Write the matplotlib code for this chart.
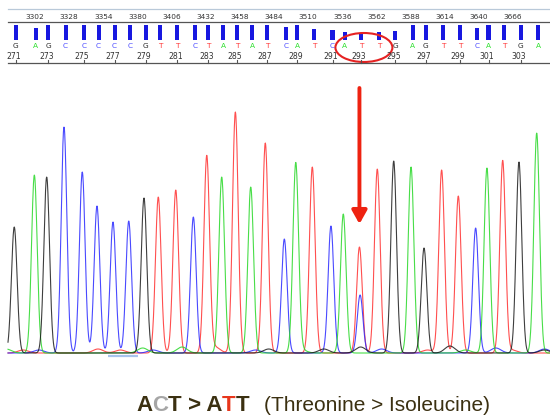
import numpy as np
import matplotlib
matplotlib.use("Agg")
import matplotlib.pyplot as plt
from matplotlib.patches import Ellipse, FancyArrowPatch

# ---------------- data ----------------
bases = list("GAGCCCCCGTTCTATATCATCATTGAGTTCATGA")
peak_scan = [3286.2, 3301.5, 3310.9, 3324.1, 3338.0, 3349.2, 3361.4, 3373.4, 3385.0,
             3395.9, 3409.2, 3422.6, 3432.8, 3444.2, 3454.6, 3466.3, 3477.4, 3491.9,
             3500.6, 3513.2, 3527.4, 3536.8, 3549.1, 3562.7, 3575.2, 3588.4, 3598.3,
             3611.7, 3624.4, 3637.6, 3646.2, 3658.2, 3670.6, 3684.1]
peak_height = [126, 178, 176, 226, 181, 147, 131, 132, 155, 156, 163, 136, 196, 176,
               241, 166, 210, 114, 189, 186, 127, 139, 106, 184, 192, 186, 105, 183,
               157, 125, 185, 192, 191, 220]
quality = [39, 32, 39, 40, 40, 40, 39, 39, 39, 39, 40, 40, 39, 39, 39, 39, 39, 34,
           39, 29, 25, 21, 18, 19, 24, 40, 40, 40, 40, 32, 39, 40, 40, 40]
# secondary (mutant) peak under base 293
extra_peaks = [("C", 3549.6, 58)]
# minor baseline bumps (channel, scan, height)
minor_peaks = [("A", 3280, 4), ("T", 3293, 3), ("C", 3305, 3), ("T", 3350, 4),
               ("T", 3367, 3), ("A", 3384, 5), ("C", 3392, 3), ("A", 3414, 6),
               ("T", 3439, 6), ("G", 3480, 4), ("C", 3470, 3), ("G", 3522, 4),
               ("A", 3505, 3), ("G", 3550, 6), ("C", 3566, 4), ("T", 3601, 3),
               ("G", 3618, 7), ("A", 3630, 3), ("C", 3653, 5), ("T", 3665, 3),
               ("G", 3690, 3), ("C", 3690, 4)]
base_numbers = list(range(271, 304, 2))
scan_ticks = list(range(3302, 3667, 26))

colors_trace = {"G": "#1c1c1c", "A": "#28d828", "C": "#2a2aff", "T": "#ff3030"}
colors_letter = {"G": "#2a2a2a", "A": "#2ee02e", "C": "#4a4aff", "T": "#ff3a3a"}

PX = 1.313                      # pixels per scan
X0 = 3302 - 35 / PX
X1 = X0 + 550 / PX
SIG = 2.15                      # peak width (scans)

fig = plt.figure(figsize=(5.5, 4.2), dpi=100)
fig.patch.set_facecolor("white")

# ---------------- trace panel ----------------
ax = fig.add_axes([0, (420 - 365) / 420, 1, (365 - 80) / 420])
ax.set_xlim(X0, X1)
ax.set_ylim(-12, 273)
ax.axis("off")

xs = np.arange(X0 + 8 / PX, X1, 0.2)
signal = {k: np.zeros_like(xs) for k in "GACT"}
for b, s, h in zip(bases, peak_scan, peak_height):
    signal[b] += h * np.exp(-0.5 * ((xs - s) / SIG) ** 2)
for b, s, h in extra_peaks:
    signal[b] += h * np.exp(-0.5 * ((xs - s) / SIG) ** 2)
for b, s, h in minor_peaks:
    signal[b] += h * np.exp(-0.5 * ((xs - s) / (SIG * 1.8)) ** 2)

for k in ["T", "C", "A", "G"]:
    ax.plot(xs, signal[k], color=colors_trace[k], lw=0.8, alpha=0.85,
            solid_joinstyle="round")

# selection marker under the baseline
ax.plot([3357.8, 3380.8], [-3, -3], color="#a8c4ee", lw=1.6, solid_capstyle="butt")

# red arrow at mutation
mut = peak_scan[22]
arr = FancyArrowPatch((mut, 353 - 88), (mut, 353 - 224),
                      arrowstyle="-|>,head_length=0.8,head_width=0.45",
                      mutation_scale=10, color="#ee2211", lw=2.8,
                      shrinkA=0, shrinkB=0)
ax.add_patch(arr)

# ---------------- top panel ----------------
at = fig.add_axes([0, 1 - 75 / 420, 1, 75 / 420])
at.set_xlim(X0, X1)
at.set_ylim(75, 0)
at.axis("off")

xl = X0 + 8 / PX
at.plot([xl, X1], [9, 9], color="#b9c9d9", lw=0.9)
at.plot([xl, X1], [22, 22], color="#555555", lw=0.9)
at.plot([xl, X1], [63, 63], color="#555555", lw=0.9)

for t in scan_ticks:
    at.text(t, 17, str(t), ha="center", va="center", fontsize=5.3,
            color="#333333", family="DejaVu Sans")

for b, s, q in zip(bases, peak_scan, quality):
    h = q / 40 * 15
    at.bar(s + 1.2, h, bottom=39.5 - h, width=3.1, color="#1818e0", linewidth=0)
    at.text(s + 1.2, 45.5, b, ha="center", va="center", fontsize=5.3,
            color=colors_letter[b], family="DejaVu Sans")

for n in base_numbers:
    idx = n - 271
    s = peak_scan[idx] + 1.2
    at.text(s - 1.5, 56.5, str(n), ha="center", va="center", fontsize=5.6,
            color="#333333", family="DejaVu Sans")
    at.plot([s, s], [59.5, 63], color="#555555", lw=0.8)

ell = Ellipse((3552.5, 47.5), 57 / PX, 29, fill=False, edgecolor="#e52222", lw=1.5)
at.add_patch(ell)

# ---------------- caption ----------------
dark = "#3b3011"
pieces = [("A", dark, "bold"), ("C", "#a6a6a6", "bold"), ("T", dark, "bold"),
          (" > A", dark, "bold"), ("T", "#e8361c", "bold"), ("T", dark, "bold")]
fig.canvas.draw()
rend = fig.canvas.get_renderer()
x = 136
ybase = 420 - 411
for txt, col, wt in pieces:
    t = fig.text(x / 550, ybase / 420, txt, color=col, fontsize=16, weight=wt,
                 family="Liberation Sans", ha="left", va="baseline")
    bb = t.get_window_extent(renderer=rend)
    x = bb.x1
fig.text(264 / 550, ybase / 420, "(Threonine > Isoleucine)", color=dark,
         fontsize=15, family="Liberation Sans", ha="left", va="baseline")

fig.savefig("out.png", dpi=100)
